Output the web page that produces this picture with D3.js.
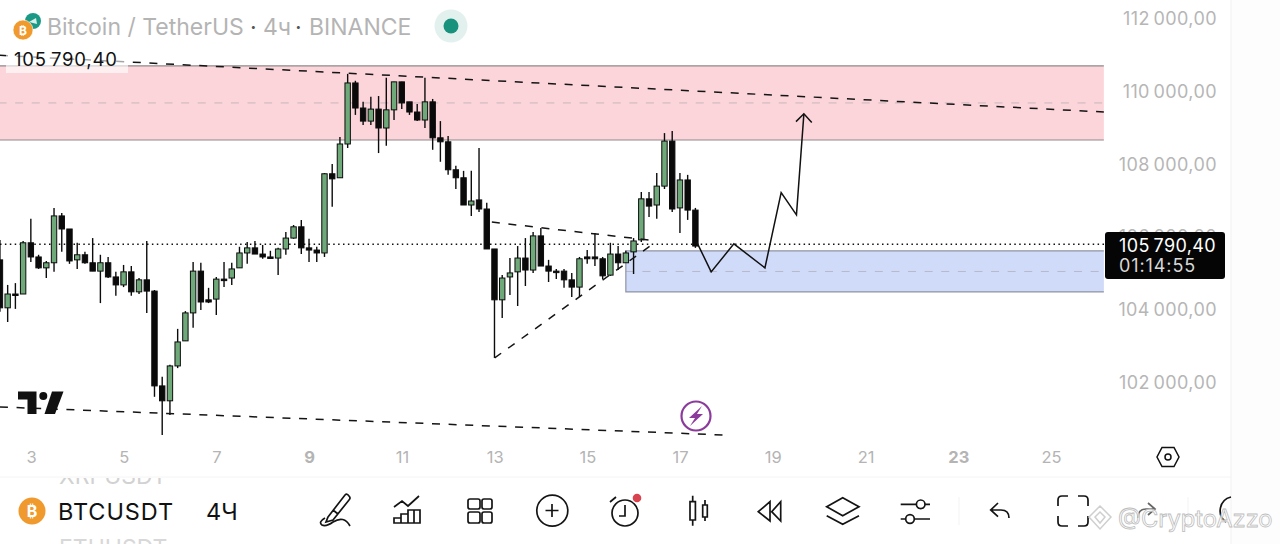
<!DOCTYPE html>
<html>
<head>
<meta charset="utf-8">
<script src="https://cdn.jsdelivr.net/npm/d3@7"></script>
<style>
html, body { margin: 0; padding: 0; background: #fff; overflow: hidden; }
svg { display: block; }
text { font-family: Inter, Roboto, sans-serif; }
</style>
</head>
<body>
<div id="svg-center"></div>
<script>
var width = 1280
var height = 544

// 4h candles, first one opens on day 2.33
var firstDay = 2.33
var stepDay = 1 / 6
var opens = [105350,104030,104410,104410,105820,105430,105130,105270,106560,106200,105350,105490,105270,105040,105270,104880,104660,105020,104470,104800,104490,101880,101470,102430,103120,103890,105040,104250,104270,104820,104850,105130,105540,105680,105510,105430,105400,105650,105950,106260,105680,105620,105540,107720,107610,108540,110220,109530,109170,109500,108980,109480,110250,109700,109420,109200,109700,108710,108600,107830,107610,106860,107000,106750,105650,104250,104880,105020,105400,105070,106010,105180,105040,105040,104800,104600,105430,105430,105380,104930,105510,105270,105570,105900,107030,106860,107380,108620,106780,107550,106720]
var highs = [105900,104660,104710,105870,106480,105490,105320,106780,106640,106200,105820,105570,105950,105490,105430,105020,105210,105180,104850,105870,104520,102130,102460,103450,103940,105290,105270,104580,104880,105290,105270,105710,105840,105870,105760,105600,105680,106120,106310,106450,105930,105710,107740,107990,108730,110470,110280,109700,109840,109860,110360,110250,110250,109700,109640,110360,109780,109170,108760,107940,107800,107800,108430,106920,105650,104930,105400,105730,105950,106120,106230,105350,105100,105100,104990,105430,105620,106090,105430,105820,105730,105600,105950,107220,107220,107740,108840,108900,107740,107690,106780]
var lows = [103920,103640,104000,104410,105290,105100,104850,105020,105570,105240,105100,105240,105040,104160,104850,104360,104600,104360,104410,103890,101580,100530,101080,102370,103120,103480,103970,104160,103830,104600,104660,105130,105240,105510,105380,105380,104930,105490,105930,105510,105290,105290,105430,106810,107610,108430,109340,109060,109060,108290,108490,109200,109500,109340,109170,108980,108380,108050,107690,107300,106860,106560,106670,105650,102650,103750,104380,104080,104630,104990,105180,104740,104820,104580,104330,104330,105240,105180,104820,104910,105070,105270,104960,105840,106530,106480,107300,106670,106090,106450,105680]
var closes = [104030,104410,104380,105820,105430,105130,105270,106560,106200,105320,105490,105270,105040,105270,104880,104660,105020,104470,104800,104490,101880,101470,102430,103090,103890,105040,104190,104190,104820,104800,105100,105540,105680,105510,105430,105400,105650,105950,106260,105680,105620,105540,107720,107580,108540,110220,109530,109170,109500,108980,109480,110250,109670,109420,109200,109700,108710,108600,107830,107610,106860,106970,106750,105650,104250,104850,104990,105400,105070,106010,105180,105040,105020,104800,104600,105380,105380,105380,104910,105510,105270,105540,105870,107030,106830,107380,108620,106750,107550,106720,105730]

var lastPrice = 105790.40
var countdown = '01:14:55'

var priceTicks = [102000, 104000, 106000, 108000, 110000, 112000]
var dayTicks = [3, 5, 7, 9, 11, 13, 15, 17, 19, 21, 23, 25]
var boldDays = [9, 23]

// drawings: zones and lines, as [day, price]
var redZone = { from: 2.3, to: 26.14, top: 110690, bottom: 108650, mid: 109670, fill: '#fbd5d9' }
var blueZone = { from: 15.83, to: 26.14, top: 105595, bottom: 104467, mid: 105030, fill: '#d0daf9' }
var channelTop = [[2.33, 110980], [26.14, 109420]]
var channelBottom = [[2.33, 101300], [17.92, 100530]]
var triangleTop = [[12.94, 106390], [16.5, 105870]]
var triangleBottom = [[13, 102650], [16.35, 105730]]
var forecast = [[17.36, 105840], [17.67, 105020], [18.16, 105790], [18.83, 105130], [19.18, 107200], [19.51, 106590], [19.67, 109370]]
var arrowHead = [[19.5, 109155], [19.67, 109370], [19.84, 109130]]

var svg = d3.select('#svg-center')
    .append('svg')
    .attr('width', width)
    .attr('height', height)

var x = d3.scaleLinear().domain([3, 25]).range([31, 1051])
var y = d3.scaleLinear().domain([100000, 112000]).range([454.2, 18.3])

var lineGen = d3.line()
    .x(function (d) { return x(d[0]) })
    .y(function (d) { return y(d[1]) })

var ruFormat = d3.formatLocale({ decimal: ',', thousands: '\u2009', grouping: [3], currency: ['', ''] }).format(',.2f')

// right strip and separators
svg.append('rect').attr('x', 1231).attr('y', 0).attr('width', 49).attr('height', height).attr('fill', '#fdfdfd')
svg.append('line').attr('x1', 1231).attr('x2', 1231).attr('y1', 0).attr('y2', height).attr('stroke', '#f1f1f1')
svg.append('line').attr('x1', 0).attr('x2', 1231).attr('y1', 477).attr('y2', 477).attr('stroke', '#f4f4f4')

function drawZone(z) {
    svg.append('rect')
        .attr('x', x(z.from))
        .attr('y', y(z.top))
        .attr('width', x(z.to) - x(z.from))
        .attr('height', y(z.bottom) - y(z.top))
        .attr('fill', z.fill)
    svg.append('line')
        .attr('x1', x(z.from)).attr('x2', x(z.to))
        .attr('y1', y(z.mid)).attr('y2', y(z.mid))
        .attr('stroke', '#a9a3a8').attr('stroke-opacity', 0.6)
        .attr('stroke-width', 1).attr('stroke-dasharray', '8 8.6')
}
drawZone(redZone)
drawZone(blueZone)

// zone borders
svg.append('path')
    .attr('d', 'M' + x(redZone.from) + ',' + y(redZone.top) + 'H' + x(redZone.to) + 'M' + x(redZone.from) + ',' + y(redZone.bottom) + 'H' + x(redZone.to))
    .attr('stroke', '#8f8a8c').attr('stroke-width', 1.2).attr('fill', 'none')
svg.append('path')
    .attr('d', 'M' + x(blueZone.to) + ',' + y(blueZone.top) + 'H' + x(blueZone.from) + 'V' + y(blueZone.bottom) + 'H' + x(blueZone.to))
    .attr('stroke', '#8f93a3').attr('stroke-width', 1.2).attr('fill', 'none')

// last price dotted line
svg.append('line')
    .attr('x1', 0).attr('x2', 1104)
    .attr('y1', y(lastPrice) + 0.5).attr('y2', y(lastPrice) + 0.5)
    .attr('stroke', '#111').attr('stroke-width', 1.5).attr('stroke-dasharray', '1.5 3.4')

// candles
var candleData = opens.map(function (o, i) {
    return { day: firstDay + i * stepDay, o: o, h: highs[i], l: lows[i], c: closes[i] }
})

var candles = svg.selectAll('g.candle')
    .data(candleData)
    .enter()
    .append('g')
    .attr('class', 'candle')

candles.append('line')
    .attr('x1', function (d) { return x(d.day) })
    .attr('x2', function (d) { return x(d.day) })
    .attr('y1', function (d) { return y(d.h) })
    .attr('y2', function (d) { return y(d.l) })
    .attr('stroke', '#0c0c0c')
    .attr('stroke-width', 1.4)

candles.append('rect')
    .attr('x', function (d) { return x(d.day) - 2.7 })
    .attr('width', 5.4)
    .attr('y', function (d) { return y(Math.max(d.o, d.c)) })
    .attr('height', function (d) { return Math.max(1.5, Math.abs(y(d.o) - y(d.c))) })
    .attr('fill', function (d) { return d.c >= d.o ? '#6fa97a' : '#0a0a0a' })
    .attr('stroke', '#0c0c0c')
    .attr('stroke-width', 1)

// trend lines
function drawDashed(points) {
    svg.append('path')
        .attr('d', lineGen(points))
        .attr('fill', 'none')
        .attr('stroke', '#141414')
        .attr('stroke-width', 1.5)
        .attr('stroke-dasharray', '8 8.63')
}
drawDashed(channelTop)
drawDashed(channelBottom)
drawDashed(triangleTop)
drawDashed(triangleBottom)

svg.append('path').attr('d', lineGen(forecast)).attr('fill', 'none').attr('stroke', '#111').attr('stroke-width', 1.5)
svg.append('path').attr('d', lineGen(arrowHead)).attr('fill', 'none').attr('stroke', '#111').attr('stroke-width', 1.5)

// price axis
var yAxis = d3.axisRight(y).tickValues(priceTicks).tickSize(0).tickPadding(0).tickFormat(ruFormat)
var yG = svg.append('g').attr('transform', 'translate(1217,0.7)').call(yAxis)
yG.select('.domain').remove()
yG.selectAll('text')
    .attr('text-anchor', 'end')
    .attr('x', 0)
    .attr('fill', '#b6b6b6')
    .style('font-size', '18px')
    .style('letter-spacing', '0.4px')

// time axis
var xAxis = d3.axisBottom(x).tickValues(dayTicks).tickSize(0).tickPadding(0).tickFormat(d3.format('d'))
var xG = svg.append('g').attr('transform', 'translate(0,451)').call(xAxis)
xG.select('.domain').remove()
xG.selectAll('text')
    .attr('fill', '#b4b4b4')
    .style('font-size', '16.5px')
    .style('font-weight', function (d) { return boldDays.indexOf(d) >= 0 ? 700 : 400 })

// price badge
svg.append('rect').attr('x', 1105).attr('y', 232).attr('width', 120).attr('height', 47).attr('rx', 3).attr('fill', '#050505')
svg.append('text').attr('x', 1119).attr('y', 252).attr('fill', '#fff').style('font-size', '18px').style('letter-spacing', '0.4px').text(ruFormat(lastPrice))
svg.append('text').attr('x', 1119).attr('y', 272).attr('fill', '#d8d8d8').style('font-size', '18px').style('letter-spacing', '0.9px').text(countdown)

// left price label over the top channel line
svg.append('rect').attr('x', 6).attr('y', 50).attr('width', 122).attr('height', 23).attr('fill', '#fff').attr('fill-opacity', 0.62)
svg.append('text').attr('x', 14).attr('y', 66).attr('fill', '#111').style('font-size', '18.5px').style('letter-spacing', '0.8px').text(ruFormat(lastPrice))

// header
svg.append('circle').attr('cx', 33).attr('cy', 21).attr('r', 8).attr('fill', '#1a9a86')
svg.append('path').attr('d', 'M29,22 L36,18 L37,24 Z').attr('fill', '#d8efe9')
svg.append('circle').attr('cx', 23).attr('cy', 30).attr('r', 10).attr('fill', '#f0992c').attr('stroke', '#fff').attr('stroke-width', 0.6)
svg.append('text').attr('x', 23).attr('y', 34.5).attr('text-anchor', 'middle').attr('fill', '#fff').style('font-size', '12px').style('font-weight', 700).text('\u20BF')
svg.append('text').attr('x', 47).attr('y', 34.5).attr('fill', '#b4b4b4').style('font-size', '23px').text('Bitcoin / TetherUS')
svg.append('text').attr('x', 250).attr('y', 34.5).attr('fill', '#555').style('font-size', '23px').text('\u00B7')
svg.append('text').attr('x', 263).attr('y', 34.5).attr('fill', '#b4b4b4').style('font-size', '23px').text('4ч')
svg.append('text').attr('x', 295).attr('y', 34.5).attr('fill', '#555').style('font-size', '23px').text('\u00B7')
svg.append('text').attr('x', 309).attr('y', 34.5).attr('fill', '#b4b4b4').style('font-size', '23px').text('BINANCE')
svg.append('circle').attr('cx', 451).attr('cy', 26).attr('r', 16.5).attr('fill', '#e2f1ee')
svg.append('circle').attr('cx', 451).attr('cy', 26).attr('r', 7.5).attr('fill', '#18927c')

// tradingview logo
svg.append('path').attr('d', 'M18,391.5H36.5V414H27.5V399.5H18Z').attr('fill', '#111')
svg.append('circle').attr('cx', 43.3).attr('cy', 396).attr('r', 4).attr('fill', '#111')
svg.append('path').attr('d', 'M52,391.5H63.5L55,414H44.5Z').attr('fill', '#111')

// lightning badge
svg.append('circle').attr('cx', 696).attr('cy', 416).attr('r', 14.5).attr('fill', '#fff').attr('stroke', '#8c3b9c').attr('stroke-width', 2.2)
svg.append('path').attr('d', 'M702,406 L689,418 H695 L690,426 L703,414 H697 Z').attr('fill', '#8c3b9c')

// settings hexagon
svg.append('path').attr('d', 'M1162,447.5H1174L1179,457L1174,466.5H1162L1157,457Z').attr('fill', 'none').attr('stroke', '#111').attr('stroke-width', 1.5)
svg.append('circle').attr('cx', 1168).attr('cy', 457).attr('r', 3).attr('fill', 'none').attr('stroke', '#111').attr('stroke-width', 1.5)

// toolbar: neighbouring symbols of the picker, clipped
svg.append('clipPath').attr('id', 'ghostTop').append('rect').attr('x', 0).attr('y', 478).attr('width', 300).attr('height', 8)
svg.append('clipPath').attr('id', 'ghostBottom').append('rect').attr('x', 0).attr('y', 536).attr('width', 300).attr('height', 8)
svg.append('text').attr('x', 59).attr('y', 484).attr('fill', '#d2d2d2').attr('clip-path', 'url(#ghostTop)').style('font-size', '23px').text('XRPUSDT')
svg.append('text').attr('x', 59).attr('y', 556).attr('fill', '#d8d8d8').attr('clip-path', 'url(#ghostBottom)').style('font-size', '23px').text('ETHUSDT')

svg.append('circle').attr('cx', 32).attr('cy', 511).attr('r', 13.5).attr('fill', '#f09a2e')
svg.append('text').attr('x', 32).attr('y', 517).attr('text-anchor', 'middle').attr('fill', '#fff').style('font-size', '16px').style('font-weight', 700).text('\u20BF')
svg.append('text').attr('x', 58).attr('y', 520).attr('fill', '#111').style('font-size', '23.5px').style('letter-spacing', '0.9px').text('BTCUSDT')
svg.append('text').attr('x', 206).attr('y', 520).attr('fill', '#111').style('font-size', '23.5px').text('4Ч')

// toolbar icons
var iconPaths = [
    // pen
    'M328,517 L345,495 Q347,493 349,496 Q351,498 349,500 L333,520 L326,522 Z M333,510 L338,514 M325,518 Q318,522 322,525 Q326,527 333,522 Q344,515 350,526',
    // indicators
    'M394,507 L402,501 L408,506 L419,496 M394,523 V518 H401 V523 Z M401,523 V514 H408 V523 M408,523 V510 H420 V523 Z M414,510 V523 M394,523 H420',
    // layouts
    'M470,499 H478 Q480,499 480,501 V507 Q480,509 478,509 H470 Q468,509 468,507 V501 Q468,499 470,499 Z M484,499 H490 Q492,499 492,501 V507 Q492,509 490,509 H484 Q482,509 482,507 V501 Q482,499 484,499 Z M470,512 H478 Q480,512 480,514 V521 Q480,523 478,523 H470 Q468,523 468,521 V514 Q468,512 470,512 Z M484,512 H490 Q492,512 492,514 V521 Q492,523 490,523 H484 Q482,523 482,521 V514 Q482,512 484,512 Z',
    // plus
    'M552,504 V517 M545.5,510.5 H558.5',
    // alarm
    'M625,505 V516 H619 M610,502 L616,497',
    // candles
    'M692.7,495.7 V501.7 M692.7,520 V525.7 M690,501.7 H695.4 V520 H690 Z M705,500 V505 M705,517 V521 M702.7,505 H707.3 V517 H702.7 Z',
    // replay
    'M758.3,511.7 L770,501.7 V521 Z M771.7,511.7 L780.7,501.7 V521 Z',
    // layers
    'M826.7,506.7 L842.7,497.7 L859,506.7 L842.7,515.7 Z M826.7,515.7 L842.7,524.3 L859,515.7',
    // sliders
    'M900.7,504.3 H916.4 M925,504.3 H930 M900.7,519 H905.7 M914.3,519 H930',
    // undo
    'M998,503 L990.7,510 L998,516.7 M990.7,510 H1001 Q1009,510 1009,518',
    // frame
    'M1058,506 V500 Q1058,496 1062,496 H1068 M1078,496 H1084 Q1088,496 1088,500 V506 M1058,516 V522 Q1058,526 1062,526 H1068 M1078,526 H1084 Q1088,526 1088,522 V516'
]
svg.selectAll('path.icon')
    .data(iconPaths)
    .enter()
    .append('path')
    .attr('class', 'icon')
    .attr('d', function (d) { return d })
    .attr('fill', 'none')
    .attr('stroke', '#141414')
    .attr('stroke-width', 1.7)

svg.append('circle').attr('cx', 552.3).attr('cy', 510.7).attr('r', 15.5).attr('fill', 'none').attr('stroke', '#141414').attr('stroke-width', 1.7)
svg.append('circle').attr('cx', 625).attr('cy', 513).attr('r', 13).attr('fill', 'none').attr('stroke', '#141414').attr('stroke-width', 1.7)
svg.append('circle').attr('cx', 637).attr('cy', 498).attr('r', 5.5).attr('fill', '#fff')
svg.append('circle').attr('cx', 637).attr('cy', 498).attr('r', 4.3).attr('fill', '#d8434f')
svg.append('circle').attr('cx', 920.7).attr('cy', 504.3).attr('r', 4.3).attr('fill', 'none').attr('stroke', '#141414').attr('stroke-width', 1.7)
svg.append('circle').attr('cx', 910).attr('cy', 519).attr('r', 4.3).attr('fill', 'none').attr('stroke', '#141414').attr('stroke-width', 1.7)

// redo and clipped last icon sit under the watermark
svg.append('path').attr('d', 'M1148,503 L1155,509 L1148,515 M1155,509 H1146 Q1138,509 1138,518').attr('fill', 'none').attr('stroke', '#666').attr('stroke-width', 1.7)
svg.append('path').attr('d', 'M1231,497 A14,14 0 0 0 1226,522').attr('fill', 'none').attr('stroke', '#141414').attr('stroke-width', 1.7)
svg.append('line').attr('x1', 959).attr('x2', 959).attr('y1', 497).attr('y2', 525).attr('stroke', '#f3f3f3')
svg.append('line').attr('x1', 1188).attr('x2', 1188).attr('y1', 497).attr('y2', 525).attr('stroke', '#f3f3f3')

// watermark
svg.append('path').attr('d', 'M1100,506 L1111,517 L1100,529 L1089,517 Z M1100,512 L1105,517 L1100,523 L1095,517 Z')
    .attr('fill', '#fff').attr('fill-rule', 'evenodd').attr('stroke', '#cfcfcf').attr('stroke-width', 1.5)
svg.append('text').attr('x', 1118).attr('y', 527).attr('fill', '#fff').attr('fill-opacity', 0.75).attr('stroke', '#bdbdbd').attr('stroke-width', 0.8)
    .style('font-size', '23.7px').text('@CryptoAzzo')
</script>
</body>
</html>
